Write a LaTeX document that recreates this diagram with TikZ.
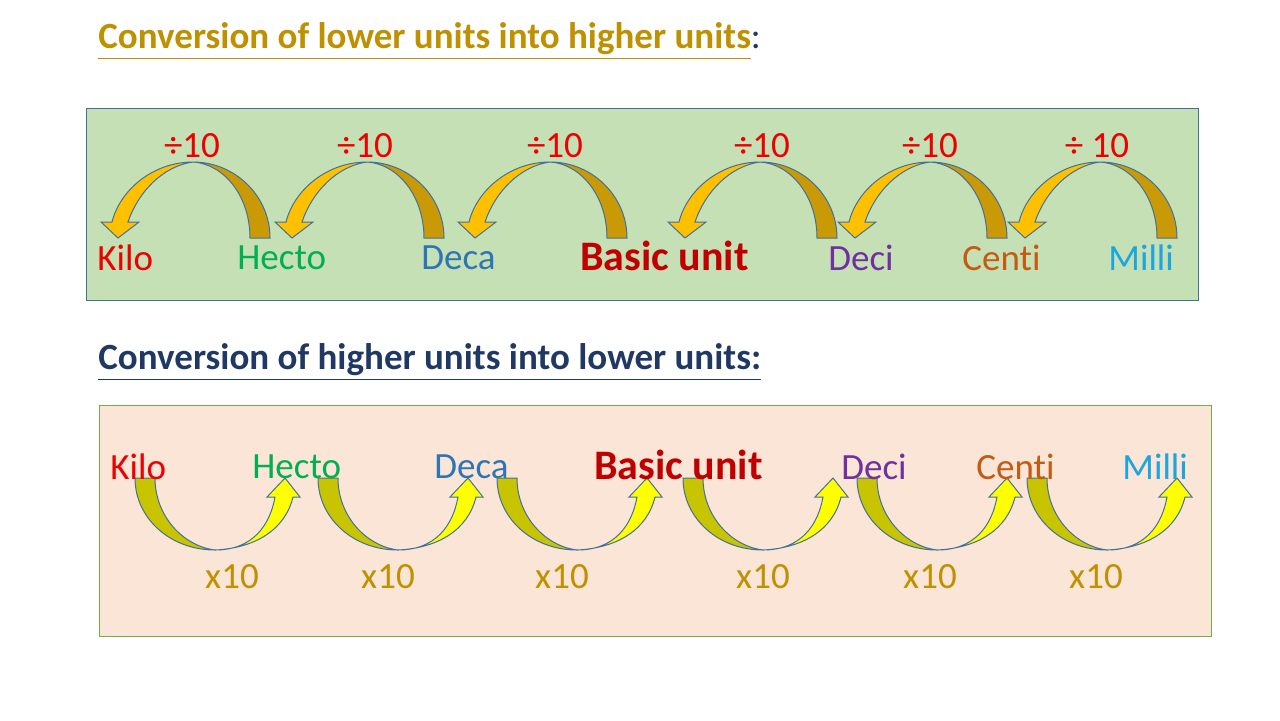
\documentclass[tikz,border=0pt]{standalone}
\usepackage{fontspec}
\setmainfont{Carlito}[Ligatures={NoCommon}]
\begin{document}
\begin{tikzpicture}[x=0.5pt,y=-0.5pt,
  lbl/.style={anchor=west,inner sep=0pt,font=\fontsize{18.5}{20}\selectfont},
  big/.style={anchor=west,inner sep=0pt,font=\fontsize{21}{23}\selectfont\bfseries,text=bred},
  op/.style={inner sep=0pt,font=\fontsize{18.5}{20}\selectfont},
  edge/.style={draw=edgec,line width=0.5pt}]
\definecolor{gold}{HTML}{BF9000}\definecolor{navy}{HTML}{203864}
\definecolor{bred}{HTML}{C00000}\definecolor{edgec}{HTML}{41719C}
\definecolor{ulight}{HTML}{FFC000}\definecolor{udark}{HTML}{C99A06}
\definecolor{llight}{HTML}{FFFF00}\definecolor{ldark}{HTML}{C8C400}
\definecolor{cK}{HTML}{EE0000}\definecolor{cH}{HTML}{00B050}\definecolor{cD}{HTML}{2E75B6}
\definecolor{cDe}{HTML}{7030A0}\definecolor{cC}{HTML}{C55A11}\definecolor{cM}{HTML}{1CA6DF}
\useasboundingbox (0,0) rectangle (1280,720);
\fill[white] (0,0) rectangle (1280,720);
\node[anchor=west,inner sep=0pt,font=\fontsize{18.5}{20}\selectfont] (t1) at (98,41) {\textcolor{gold}{\bfseries\underline{Conversion of lower units into higher units}}\textcolor{navy}{:}};
\node[anchor=west,inner sep=0pt,font=\fontsize{18.5}{20}\selectfont\bfseries,text=navy] (t2) at (98,362) {\underline{Conversion of higher units into lower units:}};
\draw[fill={rgb,255:red,197;green,224;blue,180},draw=edgec] (86,108) rectangle (1198,300);
\draw[fill={rgb,255:red,251;green,229;blue,214},draw={rgb,255:red,112;green,173;blue,71}] (99,405) rectangle (1211,636);
% upper arrows
\foreach \t in {118,292,475,685,855,1025}{
\begin{scope}[shift={(\t,0)}]
\fill[udark] (75,162) .. controls (117,162) and (152,196) .. (152,238) -- (132,238) .. controls (132,196) and (106,164) .. (75,162) -- cycle;
\draw[edge] (75,162) .. controls (117,162) and (152,196) .. (152,238) -- (132,238) .. controls (132,196) and (106,164) .. (75,162);
\draw[edge,fill=ulight] (75,162) .. controls (35,162) and (2,190) .. (-6,222) -- (-17,222) -- (0,238) -- (21,222) -- (10,222) .. controls (20,192) and (45,166) .. (75,162) -- cycle;
\end{scope}}
% lower arrows
\foreach \t in {135,318,497,683,857,1027}{
\begin{scope}[shift={(\t,0)}]
\draw[edge,fill=ldark] (80,550) .. controls (35,550) and (0,518) .. (0,478) -- (20,478) .. controls (20,516) and (48,546) .. (80,550) -- cycle;
\draw[edge,fill=llight] (80,550) .. controls (118,550) and (135,525) .. (140,497) -- (132,497) -- (150,478) -- (165,497) -- (158,497) .. controls (150,530) and (120,548) .. (80,550) -- cycle;
\end{scope}}
% upper labels
\node[lbl,text=cK] (k1) at (97,258) {Kilo};
\node[lbl,text=cH] (h1) at (237,258) {Hecto};
\node[lbl,text=cD] (d1) at (421,258) {Deca};
\node[big] (b1) at (580,256) {Basic unit};
\node[lbl,text=cDe] (de1) at (828,258) {Deci};
\node[lbl,text=cC] (c1) at (962,258) {Centi};
\node[lbl,text=cM] (m1) at (1108,258) {Milli};
\foreach \x/\s [count=\i] in {192/{÷10},365/{÷10},555/{÷10},762/{÷10},930/{÷10},1097/{÷ 10}}
  \node[op,text=cK] (dv\i) at (\x,146) {\s};
% lower labels
\node[lbl,text=cK] (k2) at (110,467) {Kilo};
\node[lbl,text=cH] (h2) at (252,467) {Hecto};
\node[lbl,text=cD] (d2) at (434,467) {Deca};
\node[big] (b2) at (594,465) {Basic unit};
\node[lbl,text=cDe] (de2) at (841,467) {Deci};
\node[lbl,text=cC] (c2) at (976,467) {Centi};
\node[lbl,text=cM] (m2) at (1122,467) {Milli};
\foreach \x [count=\i] in {232,388,562,763,930,1096}
  \node[op,text=gold] (x\i) at (\x,577) {x10};
\end{tikzpicture}
\end{document}
